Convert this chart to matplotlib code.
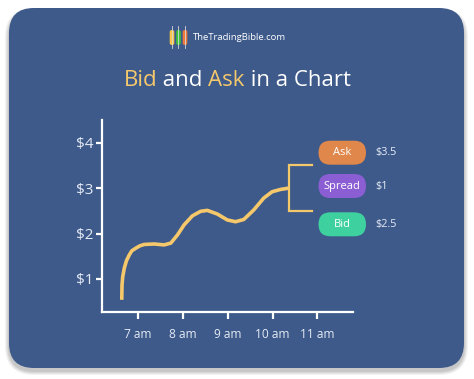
import matplotlib
matplotlib.use("Agg")
import matplotlib.pyplot as plt
from matplotlib.patches import FancyBboxPatch
from matplotlib.offsetbox import TextArea, HPacker, AnnotationBbox

# price curve (hour of day, dollars)
hours = [6.646, 6.652, 6.668, 6.703, 6.75, 6.814, 6.87, 6.962, 7.05, 7.146, 7.368,
         7.589, 7.738, 7.886, 8.032, 8.218, 8.402, 8.550, 8.772, 8.993, 9.177,
         9.361, 9.583, 9.804, 9.990, 10.174, 10.358]
price = [0.54, 0.87, 1.05, 1.24, 1.40, 1.53, 1.62, 1.68, 1.73, 1.76, 1.77,
         1.75, 1.79, 1.97, 2.19, 2.39, 2.49, 2.51, 2.43, 2.30, 2.26,
         2.31, 2.52, 2.78, 2.92, 2.97, 3.0]
xticks = [7, 8, 9, 10, 11]
xlabels = ["7 am", "8 am", "9 am", "10 am", "11 am"]
yticks = [1, 2, 3, 4]
ylabels = ["$1", "$2", "$3", "$4"]
bid, ask = 2.5, 3.5
pill_names = ["Ask", "Spread", "Bid"]
pill_values = ["$3.5", "$1", "$2.5"]
pill_colors = ["#e0874b", "#8b5fd3", "#3fd0a0"]

BG = "#3d5a8a"
GOLD = "#f6c86c"
FONT = "Open Sans"

W, H = 474, 379
fig = plt.figure(figsize=(W / 100, H / 100), dpi=100)
fig.patch.set_facecolor("white")

# overlay in pixel coordinates for the card, logo, title and pills
ov = fig.add_axes([0, 0, 1, 1])
ov.set_xlim(0, W)
ov.set_ylim(H, 0)
ov.axis("off")

# soft shadow under the card
for i, a in enumerate([0.05, 0.05, 0.06, 0.07]):
    g = 4 - i
    ov.add_patch(FancyBboxPatch((9 - g, 10 - g + 2), 455 + 2 * g, 359 + 2 * g,
                                boxstyle="round,pad=0,rounding_size=%d" % (25 + g),
                                fc="black", ec="none", alpha=a))
ov.add_patch(FancyBboxPatch((9, 8), 455, 360, boxstyle="round,pad=0,rounding_size=25",
                            fc=BG, ec="none"))

# logo
for cx, col in zip([172, 178.5, 185], ["#f7c34a", "#3cc13b", "#ee7a3a"]):
    ov.plot([cx, cx], [26, 48], color="#d8d8d8", lw=0.6)
    ov.add_patch(FancyBboxPatch((cx - 2.3, 30), 4.6, 15, boxstyle="round,pad=0,rounding_size=2",
                                fc=col, ec="none"))
ov.text(193, 37, "TheTradingBible.com", color="white", fontsize=6.8, family=FONT,
        ha="left", va="center")

# title with coloured words
parts = [("Bid", GOLD), (" and ", "white"), ("Ask", GOLD), (" in a Chart", "white")]
boxes = [TextArea(t, textprops=dict(color=c, fontsize=16, family=FONT)) for t, c in parts]
pack = HPacker(children=boxes, pad=0, sep=0, align="baseline")
ov.add_artist(AnnotationBbox(pack, (237, 80), xycoords="data", frameon=False,
                             box_alignment=(0.5, 0.5)))

# pills with values
pill_y = [152.7, 186, 224.3]
for name, val, col, yc in zip(pill_names, pill_values, pill_colors, pill_y):
    ov.add_patch(FancyBboxPatch((318.5, yc - 12), 47.5, 24, boxstyle="round,pad=0,rounding_size=12",
                                fc=col, ec="none"))
    ov.text(342.2, yc, name, color="white", fontsize=8, family=FONT, ha="center", va="center")
    ov.text(375, yc, val, color="#e6ebf5", fontsize=7.8, family=FONT, ha="left", va="center")

# chart
ax = fig.add_axes([101.7 / W, (H - 312.3) / H, (353.3 - 101.7) / W, (312.3 - 120) / H])
ax.patch.set_alpha(0)
ax.set_xlim(6.2, 11.797)
ax.set_ylim(0.266, 4.5)
ax.plot(hours, price, color=GOLD, lw=2.6, solid_capstyle="butt", solid_joinstyle="round")
# bracket between bid and ask
ax.plot([10.87, 10.36, 10.36, 10.87], [ask, ask, bid, bid], color=GOLD, lw=1.6,
        clip_on=False, solid_joinstyle="miter")

for s in ["top", "right"]:
    ax.spines[s].set_visible(False)
for s in ["left", "bottom"]:
    ax.spines[s].set_color("white")
    ax.spines[s].set_linewidth(1.6)
ax.set_xticks(xticks)
ax.set_xticklabels(xlabels, family=FONT)
ax.set_yticks(yticks)
ax.set_yticklabels(ylabels, family=FONT)
ax.tick_params(axis="x", colors="white", length=5, width=1.6, labelsize=8.6, pad=6,
               labelcolor="#e6ebf5")
ax.tick_params(axis="y", colors="white", length=4, width=1.6, labelsize=11, pad=2,
               labelcolor="#e6ebf5")

fig.savefig("out.png", dpi=100)
